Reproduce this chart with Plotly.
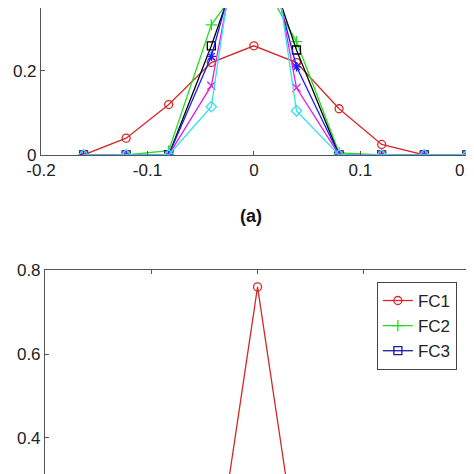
import plotly.graph_objects as go

x = [-0.16, -0.12, -0.08, -0.04, 0, 0.04, 0.08, 0.12, 0.16, 0.2]
# panel (a)
a_fc1 = [0, 0.04, 0.12, 0.22, 0.26, 0.22, 0.11, 0.025, 0, 0]
a_fc2 = [0, 0, 0.01, 0.31, 0.45, 0.27, 0.005, 0, 0, 0]
a_fc3 = [0, 0, 0, 0.26, 0.55, 0.25, 0, 0, 0, 0]
a_fc4 = [0, 0, 0, 0.235, 0.6, 0.21, 0, 0, 0, 0]
a_fc5 = [0, 0, 0, 0.165, 0.7, 0.16, 0, 0, 0, 0]
a_fc6 = [0, 0, 0, 0.115, 0.8, 0.105, 0, 0, 0, 0]
# panel (b)
b_fc1 = [0, 0, 0, 0.08, 0.76, 0.08, 0, 0, 0, 0]
b_fc2 = [0, 0, 0, 0.12, 0.25, 0.12, 0, 0, 0, 0]
b_fc3 = [0, 0, 0, 0.1, 0.22, 0.1, 0, 0, 0, 0]

names = ["FC1", "FC2", "FC3", "FC4", "FC5", "FC6"]
colors = ["#d62728", "#22dd22", "#000000", "#1a1aff", "#e020e0", "#33e0f0"]
symbols = ["circle-open", "cross-thin-open", "square-open", "asterisk-open", "x-thin-open", "diamond-open"]

fig = go.Figure()
for n, c, s, y in zip(names, colors, symbols, [a_fc1, a_fc2, a_fc3, a_fc4, a_fc5, a_fc6]):
    fig.add_trace(go.Scatter(x=x, y=y, mode="lines+markers", name=n, showlegend=False,
                             line=dict(color=c, width=1.3),
                             marker=dict(symbol=s, size=8, color=c, line=dict(width=1.3, color=c)),
                             xaxis="x", yaxis="y"))
bcolors = ["#d62728", "#22dd22", "#1a1aaa"]
for n, c, s, y in zip(names[:3], bcolors, ["circle-open", "cross-thin-open", "square-open"], [b_fc1, b_fc2, b_fc3]):
    fig.add_trace(go.Scatter(x=x, y=y, mode="lines+markers", name=n,
                             line=dict(color=c, width=1.3),
                             marker=dict(symbol=s, size=8, color=c, line=dict(width=1.3, color=c)),
                             xaxis="x2", yaxis="y2"))

font = dict(family="Liberation Sans, Arial", size=17, color="#222")
axc = "#555"
common = dict(showgrid=False, zeroline=False, automargin=False, showline=True, linecolor=axc,
              ticks="inside", ticklen=4, tickcolor=axc)
fig.update_layout(
    width=474, height=474, margin=dict(l=0, r=0, t=0, b=0, autoexpand=False),
    plot_bgcolor="white", paper_bgcolor="white", font=font,
    xaxis=dict(domain=[0.0696, 0.968], range=[-0.2, 0.2], tickvals=[-0.2, -0.1, 0, 0.1, 0.2],
               ticktext=["-0.2", "-0.1", "0", "0.1", "0.2"], anchor="y", **common),
    yaxis=dict(domain=[0.69, 1], range=[0, 0.35], tickvals=[0, 0.2], ticktext=["0", "0.2"],
               mirror=True, anchor="x", **common),
    xaxis2=dict(domain=[0.078, 0.975], range=[-0.2, 0.2], tickvals=[-0.1, 0, 0.1], side="top",
                showticklabels=False, anchor="y2", **common),
    yaxis2=dict(domain=[0, 0.447], range=[0.295, 0.8], tickvals=[0.4, 0.6, 0.8],
                ticktext=["0.4", "0.6", "0.8"], mirror=True, anchor="x2", **common),
    legend=dict(x=0.947, y=0.422, xanchor="right", yanchor="top", bordercolor="#444",
                borderwidth=1, bgcolor="white", font=dict(size=17), tracegroupgap=0),
    annotations=[dict(text="<b>(a)</b>", x=0.512, y=1 - 208 / 474, xref="paper", yref="paper",
                      showarrow=False, font=dict(size=18, color="#111"))],
)
fig.write_html("out.html")
